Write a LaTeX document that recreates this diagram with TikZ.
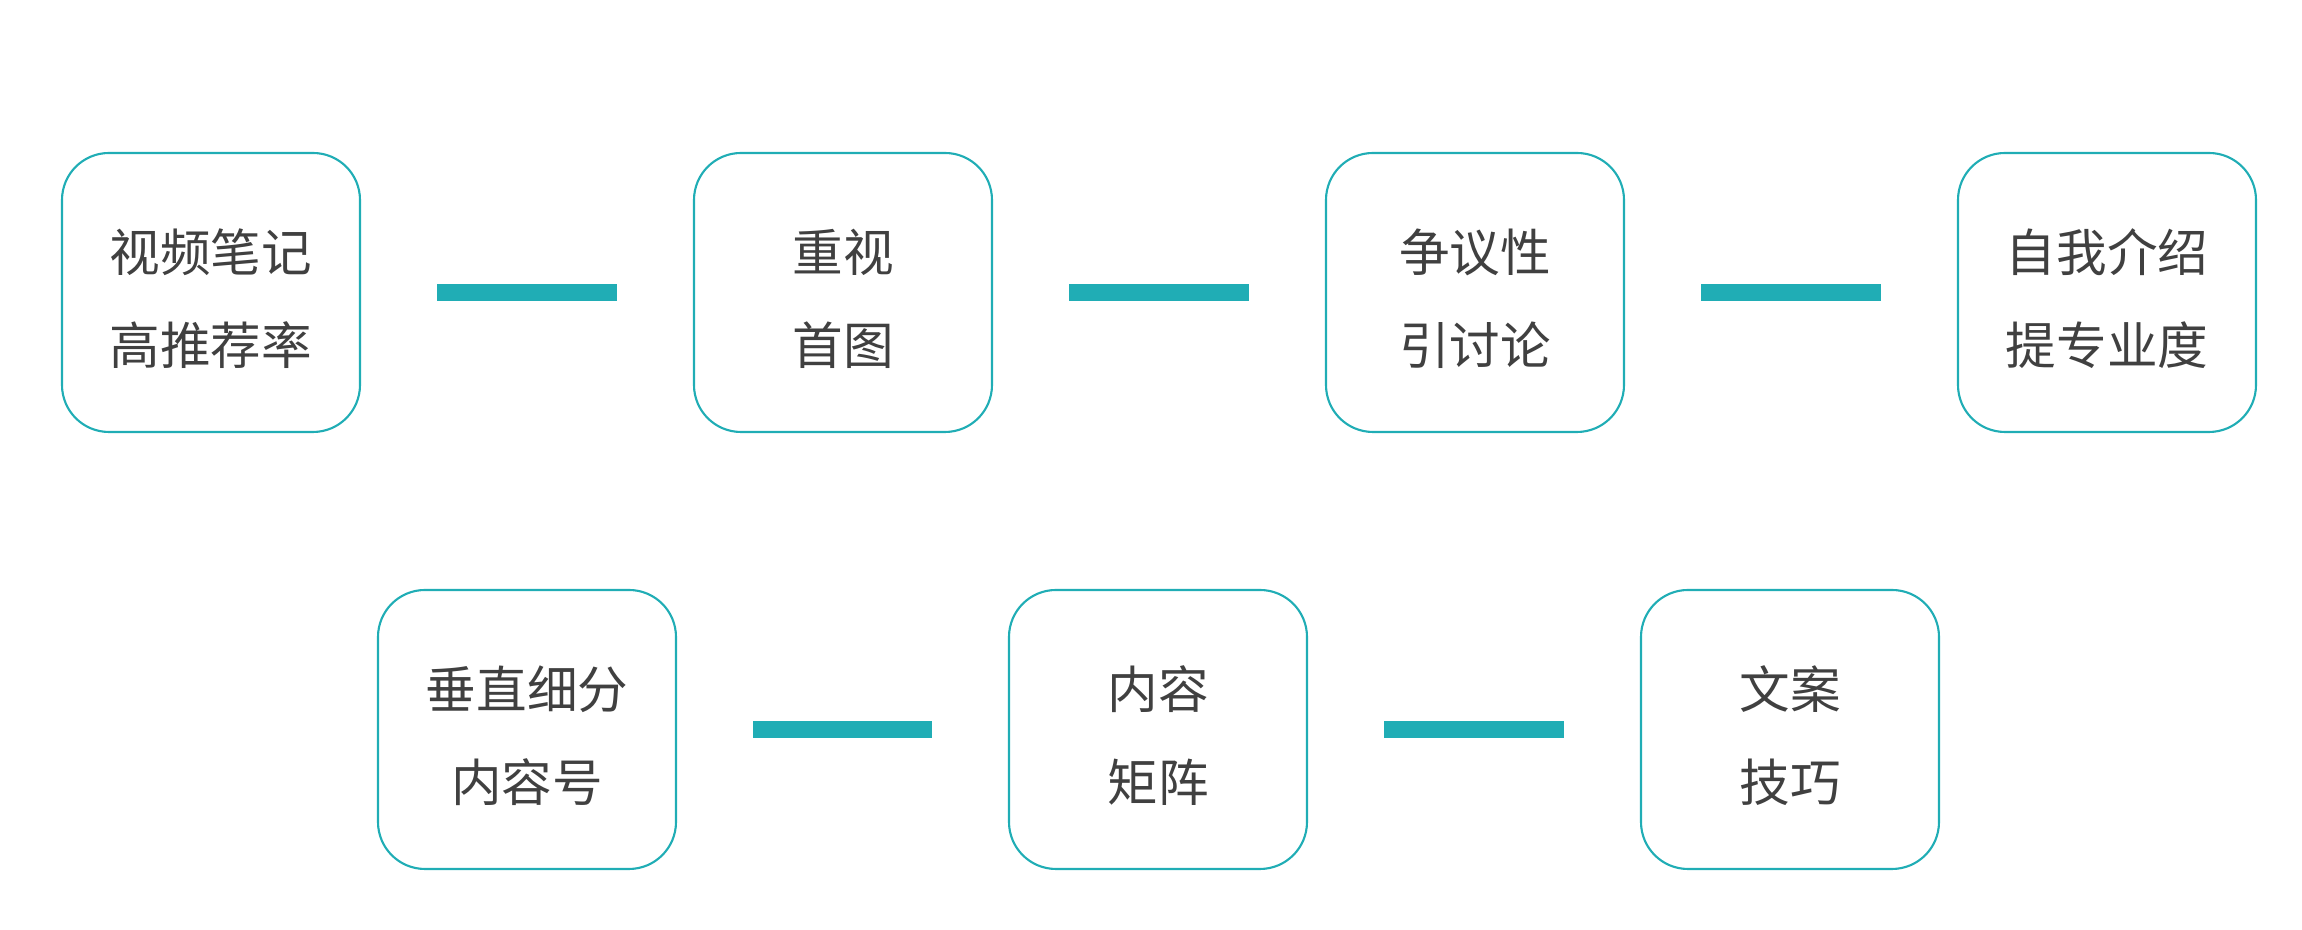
\documentclass[tikz,border=0pt]{standalone}
\usepackage{fontspec}
\setmainfont{Noto Sans CJK SC}
\definecolor{tealline}{HTML}{20ADB5}
\definecolor{textgray}{HTML}{404040}
\newcommand{\toplift}{\rule{0pt}{0.55cm}}
\begin{document}
\begin{tikzpicture}[x=1cm, y=1cm,
    card/.style={draw=tealline, line width=0.6pt, rounded corners=0.47cm,
      minimum width=2.98cm, minimum height=2.79cm, align=center,
      text=textgray, font=\fontsize{14.4pt}{26.3pt}\selectfont},
    bar/.style={draw=tealline, line width=4.8pt, shorten <=0.76cm, shorten >=0.76cm}]
  \useasboundingbox (0,0) rectangle (23.02,9.30);
  % Top row
  \node[card] (video)   at (2.11,6.375)  {\toplift 视频笔记\\高推荐率};
  \node[card] (cover)   at (8.43,6.375)  {\toplift 重视\\首图};
  \node[card] (debate)  at (14.75,6.375) {\toplift 争议性\\引讨论};
  \node[card] (intro)   at (21.07,6.375) {\toplift 自我介绍\\提专业度};
  % Bottom row
  \node[card] (niche)   at (5.27,2.005)  {\toplift 垂直细分\\内容号};
  \node[card] (matrix)  at (11.58,2.005) {\toplift 内容\\矩阵};
  \node[card] (copy)    at (17.90,2.005) {\toplift 文案\\技巧};
  % Bars
  \draw[bar] (video) -- (cover);
  \draw[bar] (cover) -- (debate);
  \draw[bar] (debate) -- (intro);
  \draw[bar] (niche) -- (matrix);
  \draw[bar] (matrix) -- (copy);
\end{tikzpicture}
\end{document}
